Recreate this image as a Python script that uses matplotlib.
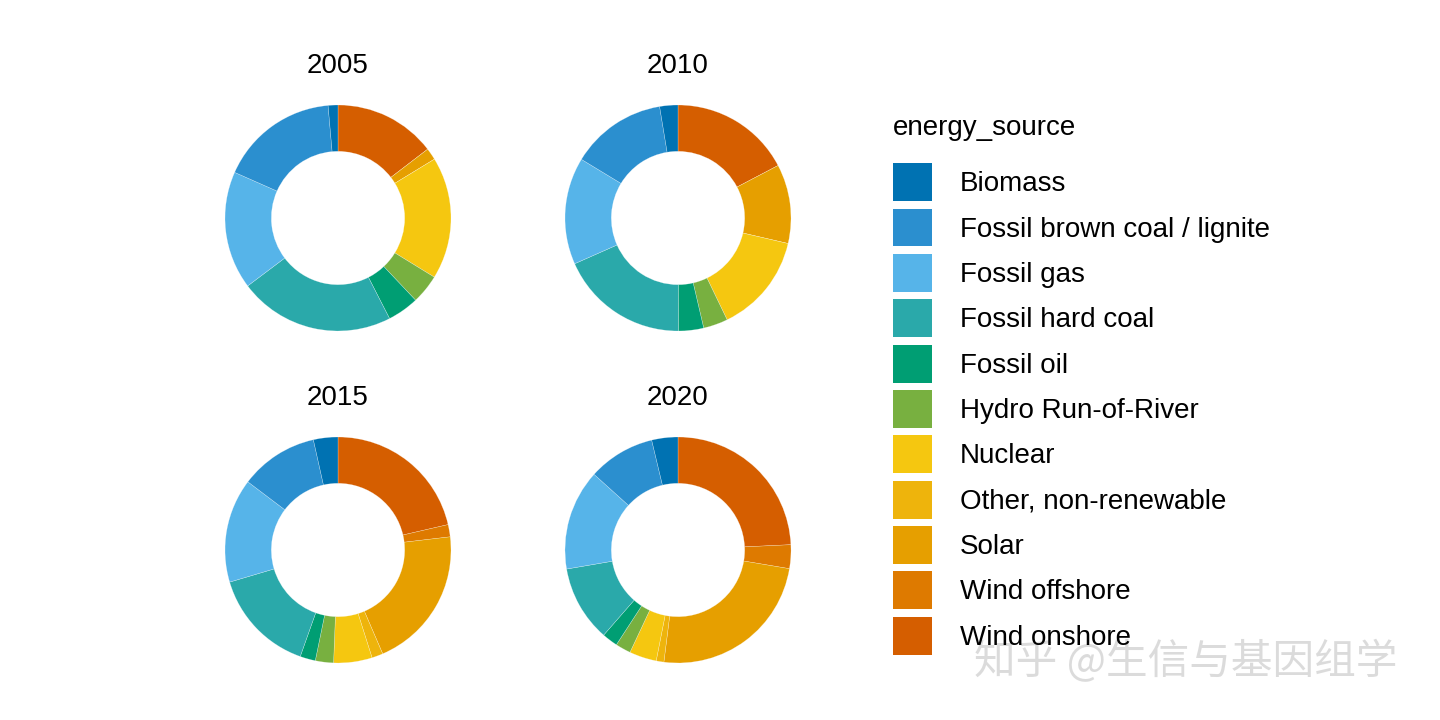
import matplotlib
matplotlib.use("Agg")
import matplotlib.pyplot as plt
from matplotlib.patches import Patch

# energy sources, in legend order
sources = ["Biomass", "Fossil brown coal / lignite", "Fossil gas", "Fossil hard coal",
           "Fossil oil", "Hydro Run-of-River", "Nuclear", "Other, non-renewable",
           "Solar", "Wind offshore", "Wind onshore"]
colors = ["#0072B2", "#2B8FCF", "#56B4E9", "#2AA9AA", "#009E73", "#78B040",
          "#F5C710", "#EEB40C", "#E69F00", "#DE7A00", "#D55E00"]

years = ["2005", "2010", "2015", "2020"]
# share in percent, same order as sources
share_2005 = [1.4, 17.0, 16.9, 22.3, 4.5, 4.2, 17.5, 0.0, 1.7, 0.0, 14.6]
share_2010 = [2.6, 13.7, 15.3, 18.4, 3.6, 3.5, 14.2, 0.0, 11.3, 0.0, 17.3]
share_2015 = [3.5, 11.2, 14.9, 15.0, 2.2, 2.6, 5.5, 1.6, 20.4, 1.75, 21.4]
share_2020 = [3.75, 9.6, 14.4, 10.9, 2.25, 2.2, 3.9, 1.1, 24.4, 3.4, 24.3]
shares = [share_2005, share_2010, share_2015, share_2020]

W, H = 1440, 720
fig = plt.figure(figsize=(14.4, 7.2), dpi=100)
plt.rcParams['font.family'] = ['Liberation Sans', 'DejaVu Sans']

centers = [(338, 218), (678, 218), (338, 550), (678, 550)]
R = 113
for yr, vals, (cx, cy) in zip(years, shares, centers):
    ax = fig.add_axes([(cx - R) / W, (H - cy - R) / H, 2 * R / W, 2 * R / H])
    # ggplot polar stacks last level first, clockwise from 12 o'clock
    ax.pie(vals[::-1], colors=colors[::-1], startangle=90, counterclock=False,
           radius=1, wedgeprops=dict(width=0.41, edgecolor="#FFFFFF80", linewidth=0.3))
    ax.set_xlim(-1, 1)
    ax.set_ylim(-1, 1)
    ax.axis("off")
    fig.text(cx / W, 1 - (cy - 152) / H, yr, ha="center", va="center", fontsize=20)

handles = [Patch(facecolor=c, edgecolor="none") for c in colors]
leg = fig.legend(handles, sources, loc="upper left", bbox_to_anchor=(893 / W, 1 - 115 / H),
                 frameon=False, fontsize=20, title="energy_source", title_fontsize=20,
                 handlelength=1.4, handleheight=1.72, labelspacing=0.27, handletextpad=1.0,
                 borderpad=0, borderaxespad=0)
leg._legend_box.align = "left"
leg._legend_box.sep = 16

fig.text(1186 / W, 1 - 662 / H, "知乎 @生信与基因组学", ha="center", va="center", fontsize=30,
         color="#D8D8D8", alpha=0.9, family=["Noto Sans CJK SC", "DejaVu Sans"])

fig.savefig("out.png", dpi=100, facecolor="white")
